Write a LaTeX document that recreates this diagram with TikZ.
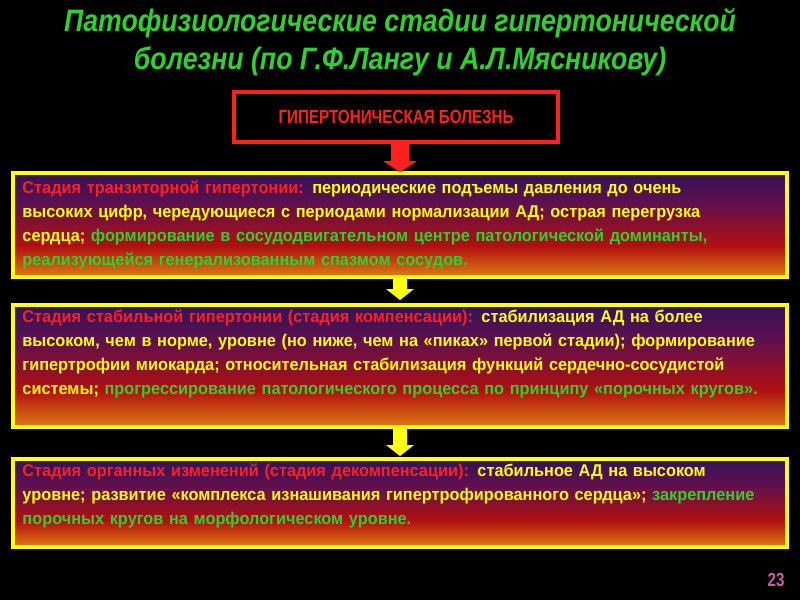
\documentclass[tikz,border=0pt]{standalone}
\usepackage{fontspec}
\setmainfont{Liberation Sans}
\newfontfamily\nar[FakeStretch=0.96]{Liberation Sans}
\newfontfamily\hnar[FakeStretch=0.8]{Liberation Sans}
\newfontfamily\tnar[FakeStretch=0.86]{Liberation Sans}
\definecolor{tred}{HTML}{FF2020}
\definecolor{tyel}{HTML}{FFFF10}
\definecolor{tgrn}{HTML}{30D030}
\definecolor{navyb}{HTML}{14145A}
\definecolor{purp}{HTML}{5A1050}
\definecolor{dred}{HTML}{B01010}
\definecolor{orng}{HTML}{F0A010}
\pgfdeclareverticalshading{stage}{100bp}{color(0bp)=(orng); color(20bp)=(orng); color(40bp)=(dred); color(62bp)=(purp); color(85bp)=(navyb); color(100bp)=(navyb)}
\tikzset{
  stagebox/.style={draw=tyel,line width=3.5pt,shading=stage,minimum width=774pt,inner sep=0pt},
  stagetext/.style={anchor=north west,text width=752pt,inner sep=0pt,font=\nar\bfseries\fontsize{17}{24}\selectfont,text=tyel},
  blockarrow/.style={line width=0pt}
}
\newcommand\downblock[5]{% from, to, color, shaft half, head half
  \fill[#3] ([xshift=-#4]#1) -- ([xshift=#4]#1) -- ([xshift=#4,yshift=11pt]#2) -- ([xshift=#5,yshift=11pt]#2) -- (#2) -- ([xshift=-#5,yshift=11pt]#2) -- ([xshift=-#4,yshift=11pt]#2) -- cycle;}
\begin{document}
\begin{tikzpicture}[x=1pt,y=-1pt]
\useasboundingbox[fill=black] (0,0) rectangle (800,600);
\node (title) at (400,42) [align=center,text=tgrn,font=\tnar\bfseries\itshape\fontsize{31}{38}\selectfont] {Патофизиологические стадии гипертонической\\болезни (по Г.Ф.Лангу и А.Л.Мясникову)};
\node (hb) [draw=tred,line width=4pt,minimum width=324pt,minimum height=50pt,text=tred,font=\hnar\bfseries\fontsize{19}{22}\selectfont] at (396,117) {ГИПЕРТОНИЧЕСКАЯ БОЛЕЗНЬ};
\node (s1) [stagebox,minimum height=104pt] at (400,225) {};
\node (s2) [stagebox,minimum height=122pt] at (400,366) {};
\node (s3) [stagebox,minimum height=88pt] at (400,503) {};
\coordinate (a1s) at (400,143); \coordinate (a1e) at (400,172);
\coordinate (a2s) at (400,278); \coordinate (a2e) at (400,300);
\coordinate (a3s) at (400,428); \coordinate (a3e) at (400,456);
\downblock{a1s}{a1e}{tred}{9pt}{17pt}
\downblock{a2s}{a2e}{tyel}{7pt}{14pt}
\downblock{a3s}{a3e}{tyel}{7pt}{14pt}
\node (t1) [stagetext] at ([xshift=11pt,yshift=-9pt]s1.north west) {\textcolor{tred}{Стадия транзиторной гипертонии:} периодические подъемы давления до очень высоких цифр, чередующиеся с периодами нормализации АД; острая пере\-грузка сердца; \textcolor{tgrn}{формирование в сосудодвигательном центре патологической доминанты, реализующейся генерализованным спазмом сосудов.}};
\node (t2) [stagetext] at ([xshift=11pt,yshift=-6pt]s2.north west) {\textcolor{tred}{Стадия стабильной гипертонии (стадия компенсации):} стабилизация АД на более высоком, чем в норме, уровне (но ниже, чем на «пиках» первой стадии); формирование гипертрофии миокарда; относительная стабилизация функций сердечно-сосудистой системы; \textcolor{tgrn}{прогрессирование патологического процесса по принципу «порочных кругов».}};
\node (t3) [stagetext] at ([xshift=11pt,yshift=-6pt]s3.north west) {\textcolor{tred}{Стадия органных изменений (стадия декомпенсации):} стабильное АД на высоком уровне; развитие «комплекса изнашивания гипертрофированного сердца»; \textcolor{tgrn}{закрепление порочных кругов на морфологическом уровне.}};
\node (pg) at (776,580) [text=violet!50!pink,font=\hnar\bfseries\fontsize{19}{20}\selectfont] {23};
\end{tikzpicture}
\end{document}
